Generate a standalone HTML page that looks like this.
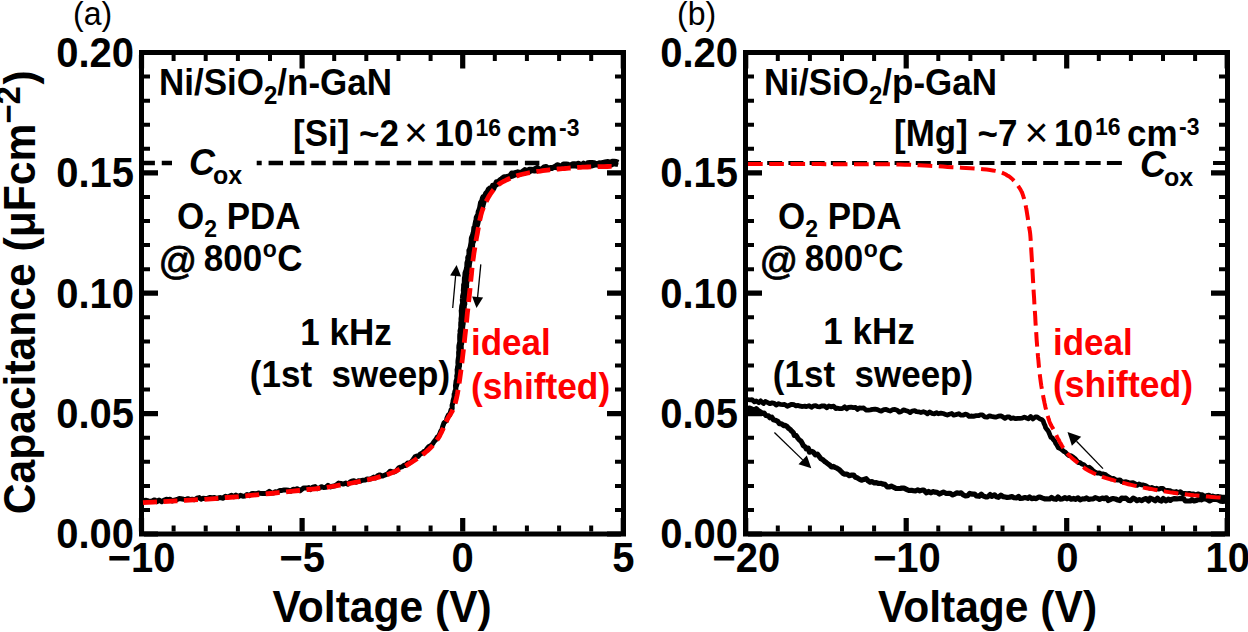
<!DOCTYPE html>
<html><head><meta charset="utf-8">
<style>
html,body{margin:0;padding:0;background:#fff;}
body{width:1248px;height:632px;overflow:hidden;position:relative;}
svg{position:absolute;left:0;top:0;}
.t{font-family:"Liberation Sans",sans-serif;font-weight:bold;}
</style></head><body>
<svg width="1248" height="632" viewBox="0 0 1248 632">
<rect width="1248" height="632" fill="#fff"/>
<rect x="141.5" y="52.5" width="482.0" height="481.5" fill="none" stroke="#000" stroke-width="5"/>
<path d="M173.6 531.5 V525.5 M173.6 55.0 V61.0 M205.7 531.5 V525.5 M205.7 55.0 V61.0 M237.9 531.5 V525.5 M237.9 55.0 V61.0 M270.0 531.5 V525.5 M270.0 55.0 V61.0 M334.2 531.5 V525.5 M334.2 55.0 V61.0 M366.3 531.5 V525.5 M366.3 55.0 V61.0 M398.5 531.5 V525.5 M398.5 55.0 V61.0 M430.6 531.5 V525.5 M430.6 55.0 V61.0 M494.8 531.5 V525.5 M494.8 55.0 V61.0 M526.9 531.5 V525.5 M526.9 55.0 V61.0 M559.1 531.5 V525.5 M559.1 55.0 V61.0 M591.2 531.5 V525.5 M591.2 55.0 V61.0 M144.0 509.9 H150.0 M621.0 509.9 H615.0 M144.0 485.9 H150.0 M621.0 485.9 H615.0 M144.0 461.8 H150.0 M621.0 461.8 H615.0 M144.0 437.7 H150.0 M621.0 437.7 H615.0 M144.0 389.6 H150.0 M621.0 389.6 H615.0 M144.0 365.5 H150.0 M621.0 365.5 H615.0 M144.0 341.4 H150.0 M621.0 341.4 H615.0 M144.0 317.3 H150.0 M621.0 317.3 H615.0 M144.0 269.2 H150.0 M621.0 269.2 H615.0 M144.0 245.1 H150.0 M621.0 245.1 H615.0 M144.0 221.0 H150.0 M621.0 221.0 H615.0 M144.0 196.9 H150.0 M621.0 196.9 H615.0 M144.0 148.8 H150.0 M621.0 148.8 H615.0 M144.0 124.7 H150.0 M621.0 124.7 H615.0 M144.0 100.7 H150.0 M621.0 100.7 H615.0 M144.0 76.6 H150.0 M621.0 76.6 H615.0" stroke="#000" stroke-width="4" fill="none"/>
<path d="M141.5 531.5 V518.0 M141.5 55.0 V68.5 M302.1 531.5 V518.0 M302.1 55.0 V68.5 M462.7 531.5 V518.0 M462.7 55.0 V68.5 M623.3 531.5 V518.0 M623.3 55.0 V68.5 M144.0 534.0 H158.0 M621.0 534.0 H607.0 M144.0 413.6 H158.0 M621.0 413.6 H607.0 M144.0 293.2 H158.0 M621.0 293.2 H607.0 M144.0 172.9 H158.0 M621.0 172.9 H607.0 M144.0 52.5 H158.0 M621.0 52.5 H607.0" stroke="#000" stroke-width="5.2" fill="none"/>
<rect x="745.5" y="52.5" width="482.0" height="481.5" fill="none" stroke="#000" stroke-width="5"/>
<path d="M777.8 531.5 V525.5 M777.8 55.0 V61.0 M809.9 531.5 V525.5 M809.9 55.0 V61.0 M842.0 531.5 V525.5 M842.0 55.0 V61.0 M874.1 531.5 V525.5 M874.1 55.0 V61.0 M938.3 531.5 V525.5 M938.3 55.0 V61.0 M970.4 531.5 V525.5 M970.4 55.0 V61.0 M1002.5 531.5 V525.5 M1002.5 55.0 V61.0 M1034.6 531.5 V525.5 M1034.6 55.0 V61.0 M1098.8 531.5 V525.5 M1098.8 55.0 V61.0 M1130.9 531.5 V525.5 M1130.9 55.0 V61.0 M1163.0 531.5 V525.5 M1163.0 55.0 V61.0 M1195.1 531.5 V525.5 M1195.1 55.0 V61.0 M748.0 509.9 H754.0 M1225.0 509.9 H1219.0 M748.0 485.9 H754.0 M1225.0 485.9 H1219.0 M748.0 461.8 H754.0 M1225.0 461.8 H1219.0 M748.0 437.7 H754.0 M1225.0 437.7 H1219.0 M748.0 389.6 H754.0 M1225.0 389.6 H1219.0 M748.0 365.5 H754.0 M1225.0 365.5 H1219.0 M748.0 341.4 H754.0 M1225.0 341.4 H1219.0 M748.0 317.3 H754.0 M1225.0 317.3 H1219.0 M748.0 269.2 H754.0 M1225.0 269.2 H1219.0 M748.0 245.1 H754.0 M1225.0 245.1 H1219.0 M748.0 221.0 H754.0 M1225.0 221.0 H1219.0 M748.0 196.9 H754.0 M1225.0 196.9 H1219.0 M748.0 148.8 H754.0 M1225.0 148.8 H1219.0 M748.0 124.7 H754.0 M1225.0 124.7 H1219.0 M748.0 100.7 H754.0 M1225.0 100.7 H1219.0 M748.0 76.6 H754.0 M1225.0 76.6 H1219.0" stroke="#000" stroke-width="4" fill="none"/>
<path d="M745.7 531.5 V518.0 M745.7 55.0 V68.5 M906.2 531.5 V518.0 M906.2 55.0 V68.5 M1066.7 531.5 V518.0 M1066.7 55.0 V68.5 M1227.2 531.5 V518.0 M1227.2 55.0 V68.5 M748.0 534.0 H762.0 M1225.0 534.0 H1211.0 M748.0 413.6 H762.0 M1225.0 413.6 H1211.0 M748.0 293.2 H762.0 M1225.0 293.2 H1211.0 M748.0 172.9 H762.0 M1225.0 172.9 H1211.0 M748.0 52.5 H762.0 M1225.0 52.5 H1211.0" stroke="#000" stroke-width="5.2" fill="none"/>
<path d="M140.4 163 H541" stroke="#000" stroke-width="4.5" stroke-dasharray="14.5 6.86" fill="none"/>
<rect x="172" y="156" width="84.7" height="14" fill="#fff"/>
<path d="M143.9 500.6 L146.3 500.3 L148.4 500.9 L150.2 501.2 L152.4 500.9 L154.6 499.9 L157.1 501.7 L159.1 500.0 L161.7 501.8 L163.8 500.2 L166.3 499.2 L168.4 499.7 L170.1 499.2 L172.4 500.9 L174.5 500.1 L177.1 499.5 L179.2 498.6 L181.0 498.8 L183.7 499.3 L185.6 499.6 L187.9 498.7 L190.4 499.6 L192.1 499.2 L194.6 499.8 L196.9 498.2 L199.3 497.6 L201.1 499.1 L203.0 498.3 L205.2 498.6 L207.9 498.2 L210.2 497.4 L212.2 498.0 L214.4 497.5 L216.7 498.6 L218.7 497.7 L220.5 497.6 L223.2 498.2 L225.5 496.2 L227.4 497.0 L229.3 496.3 L231.6 495.2 L233.7 496.7 L235.9 495.1 L238.3 496.6 L240.3 495.3 L242.8 496.2 L245.2 495.9 L247.0 494.5 L249.2 495.6 L251.9 493.4 L253.5 493.4 L255.7 493.9 L258.2 493.1 L259.9 493.3 L262.4 493.4 L265.0 493.5 L266.9 493.1 L269.2 491.4 L271.6 493.1 L273.7 492.9 L275.5 491.7 L277.5 492.1 L279.7 490.4 L282.0 490.4 L284.3 489.9 L286.2 489.9 L288.4 490.2 L290.6 491.3 L293.2 489.2 L295.1 489.5 L297.4 488.7 L300.0 490.7 L301.9 489.2 L303.8 487.9 L306.1 488.1 L308.7 487.6 L310.3 489.5 L312.8 487.1 L315.0 486.6 L317.2 488.8 L319.7 487.8 L321.4 486.7 L323.5 487.5 L326.0 487.2 L328.0 485.4 L330.5 487.0 L332.7 486.2 L334.9 485.7 L336.6 484.8 L338.8 483.1 L340.8 483.4 L343.1 484.1 L345.8 483.1 L348.0 484.1 L350.1 482.1 L351.7 481.3 L353.9 480.8 L356.4 482.2 L358.7 480.7 L360.7 481.1 L362.4 480.3 L365.2 480.1 L367.2 478.9 L368.9 479.2 L371.2 478.7 L373.8 477.1 L375.5 478.0 L377.9 475.5 L379.6 474.9 L382.3 476.1 L383.8 475.5 L386.6 474.4 L388.2 473.4 L390.1 471.2 L392.7 472.0 L394.4 471.9 L396.3 470.8 L398.6 468.0 L400.1 467.2 L402.0 466.9 L403.9 465.3 L405.6 465.4 L407.6 463.0 L409.7 463.0 L411.4 461.8 L413.2 459.5 L415.0 456.9 L416.8 456.1 L418.2 456.4 L420.1 454.2 L422.3 453.1 L423.7 451.6 L425.6 450.9 L426.9 448.9 L428.6 446.7 L430.6 445.7 L431.9 444.8 L433.6 442.3 L434.8 440.8 L436.0 439.5 L437.2 437.2 L438.4 436.4 L439.6 434.4 L440.9 430.8 L441.6 430.6 L442.7 426.5 L443.1 425.3 L444.0 422.8 L444.9 422.0 L446.5 420.6 L447.0 418.1 L448.5 414.7 L449.7 415.0 L450.2 412.9 L451.1 409.7 L452.2 408.5 L452.1 405.3 L452.9 402.9 L453.1 400.7 L453.9 397.8 L454.2 396.7 L454.1 394.3 L454.9 392.6 L454.8 391.6 L455.7 389.4 L455.5 385.4 L455.7 384.5 L456.1 380.7 L456.5 380.5 L457.0 376.6 L456.7 376.2 L457.3 373.4 L457.1 369.5 L457.8 368.3 L457.5 367.4 L458.1 364.9 L457.9 362.8 L458.0 360.7 L458.5 357.1 L458.7 356.4 L458.6 352.2 L459.0 350.3 L458.8 347.9 L458.9 345.8 L459.3 343.9 L459.8 341.6 L459.7 339.1 L459.7 336.5 L459.8 334.3 L460.3 333.5 L460.0 331.1 L460.7 328.0 L460.8 326.6 L460.7 325.5 L460.8 322.4 L461.1 321.5 L461.0 318.9 L461.4 316.2 L461.4 313.2 L461.2 310.5 L461.4 309.9 L461.7 306.2 L461.8 305.7 L462.6 303.1 L462.3 299.8 L462.5 298.2 L462.6 295.9 L462.9 295.1 L463.7 291.8 L463.3 290.7 L463.6 287.0 L463.6 284.8 L464.3 283.0 L464.3 280.8 L464.4 278.0 L464.8 276.2 L465.0 273.0 L465.5 271.4 L466.1 270.0 L466.5 268.1 L466.8 266.5 L466.9 262.9 L467.7 260.3 L467.8 259.4 L467.7 257.7 L468.7 255.0 L469.0 253.3 L468.9 250.4 L469.6 249.0 L470.3 246.9 L470.6 244.9 L471.1 242.2 L471.3 238.4 L471.7 237.1 L472.1 236.2 L473.0 233.5 L473.5 231.5 L473.9 227.6 L474.6 227.3 L474.9 224.7 L475.6 221.3 L476.1 219.6 L476.2 217.6 L477.3 215.3 L477.8 215.2 L478.2 211.5 L478.8 210.2 L479.6 207.9 L480.2 204.4 L480.5 202.7 L481.7 200.8 L482.4 198.0 L483.0 196.7 L484.6 195.9 L485.8 193.0 L487.1 191.8 L488.4 189.2 L490.2 187.7 L491.8 188.1 L492.6 185.3 L494.9 185.1 L496.2 181.8 L497.8 182.2 L499.6 180.0 L501.4 178.7 L504.0 176.7 L505.8 176.7 L507.9 176.3 L509.5 176.0 L511.7 173.0 L513.4 173.5 L515.9 172.3 L517.7 171.8 L520.0 172.5 L521.9 171.8 L524.7 169.6 L526.9 170.7 L529.1 169.3 L530.8 169.2 L533.5 169.4 L535.2 168.6 L537.3 167.3 L539.3 169.1 L541.6 169.1 L543.8 167.0 L546.2 166.5 L548.2 168.2 L550.8 167.5 L552.8 167.5 L555.2 166.2 L557.2 164.7 L559.4 165.4 L561.6 165.7 L563.5 163.9 L566.1 163.9 L568.0 164.3 L570.0 165.2 L572.8 163.8 L574.7 163.8 L576.8 163.9 L578.7 163.2 L581.0 165.0 L583.4 163.1 L585.9 165.0 L587.7 162.7 L589.7 162.5 L592.0 162.4 L594.2 162.7 L596.6 164.2 L599.0 162.8 L600.9 163.0 L603.1 162.4 L605.0 162.0 L607.9 161.5 L609.7 162.6 L612.2 161.3 L613.9 161.2 L616.2 161.5 L618.4 162.4" stroke="#000" stroke-width="5" fill="none" stroke-linejoin="round"/>
<path d="M452.7 404.2 L452.8 402.9 L453.8 400.1 L454.3 396.9 L454.8 396.0 L455.6 393.4 L456.2 390.0 L456.3 387.4 L457.0 385.8 L457.7 383.4 L458.0 381.0 L458.3 378.2 L458.5 376.1 L458.9 373.9 L459.5 370.4 L459.5 367.8 L460.0 366.1 L460.1 362.6 L460.5 360.9 L460.7 357.8 L461.0 355.0 L461.1 353.2 L461.6 351.0 L461.8 348.3 L461.7 345.4 L462.2 343.7 L462.1 340.1 L462.4 338.6 L462.5 335.5 L462.9 334.0 L462.8 330.1 L463.1 328.3 L463.4 325.4 L463.7 323.8 L463.7 320.4 L464.1 318.1 L464.3 315.5 L464.2 313.8 L464.4 311.7 L464.7 307.9 L464.8 305.8 L465.3 304.2 L465.2 300.8 L465.5 299.2 L465.7 295.3 L466.0 293.3 L466.6 291.6 L466.8 289.3 L467.2 285.8 L467.1 284.3 L467.7 280.3 L468.0 278.4 L468.1 275.9 L468.4 272.9 L468.8 270.9 L469.4 268.1 L469.8 265.8 L469.9 264.3 L470.5 261.2 L470.5 258.8 L471.0 257.0 L471.4 253.7 L472.2 250.7 L472.4 249.5 L473.1 245.8 L473.2 243.4 L474.2 241.2 L474.7 239.8 L475.0 236.4 L475.9 234.5 L476.1 232.2 L476.7 229.1 L477.1 227.4 L478.1 224.8 L478.8 221.4 L479.1 219.7 L480.1 218.1 L480.5 214.5 L481.2 212.5 L482.1 209.6 L482.8 208.1 L483.5 205.8 L484.3 202.7 L485.1 200.5 L486.4 197.8 L487.4 196.7 L488.9 193.5 L490.3 192.4 L492.1 191.1 L494.0 189.3 L495.5 186.1 L497.2 185.0 L499.4 183.3 L501.2 181.8 L503.5 180.9 L505.8 180.1 L508.1 177.9 L510.5 177.3 L512.7 176.6 L515.2 175.5 L517.3 174.8 L519.7 175.1 L522.3 173.6 L524.6 174.0 L527.1 172.2 L529.7 172.3 L532.2 170.9 L534.4 171.6 L537.1 171.3 L539.1 169.9 L541.7 169.4 L544.6 169.7 L547.0 169.1 L549.5 168.9 L551.7 169.1 L554.5 167.8 L556.8 168.3 L559.1 167.7 L561.5 167.2 L564.1 167.6 L566.8 166.8 L569.0 166.8 L571.8 166.4 L574.1 166.3 L576.8 166.7 L579.0 165.8 L581.6 166.4 L584.2 165.5 L586.5 166.4 L589.1 165.6 L591.6 166.5 L594.1 165.8 L596.6 165.4 L599.3 166.2 L601.6 164.8 L604.2 164.7 L606.4 165.7 L609.1 165.4 L611.6 165.4 L614.1 164.2 L616.4 164.7 L618.1 165.2" stroke="#000" stroke-width="4" fill="none" stroke-linejoin="round"/>
<path d="M143.0 502.7 L147.5 502.4 L153.4 502.1 L160.2 501.8 L167.9 501.4 L176.3 500.9 L185.0 500.4 L193.9 499.9 L202.8 499.4 L211.4 498.8 L219.5 498.2 L227.5 497.5 L236.0 496.8 L244.6 496.0 L253.3 495.2 L262.0 494.3 L270.4 493.5 L278.5 492.6 L286.0 491.9 L292.9 491.1 L299.0 490.5 L304.2 490.0 L308.5 489.5 L312.1 489.1 L315.3 488.8 L318.0 488.5 L320.6 488.2 L323.1 487.8 L325.8 487.5 L328.7 487.0 L332.0 486.5 L335.7 485.9 L339.6 485.2 L343.7 484.5 L347.8 483.8 L352.0 483.0 L356.1 482.2 L360.1 481.4 L364.0 480.6 L367.6 479.8 L371.0 479.0 L374.1 478.3 L376.9 477.6 L379.5 476.9 L382.0 476.2 L384.3 475.5 L386.6 474.8 L388.9 474.0 L391.2 473.1 L393.5 472.1 L396.0 471.0 L398.6 469.7 L401.3 468.3 L404.1 466.8 L406.9 465.1 L409.6 463.4 L412.3 461.7 L415.0 460.0 L417.5 458.3 L419.8 456.6 L422.0 455.0 L424.0 453.5 L425.8 452.0 L427.5 450.6 L429.0 449.2 L430.5 447.8 L431.9 446.3 L433.2 444.8 L434.5 443.3 L435.8 441.7 L437.0 440.0 L438.2 438.2 L439.4 436.3 L440.4 434.2 L441.5 432.2 L442.4 430.1 L443.4 428.0 L444.3 425.9 L445.2 423.8 L446.1 421.9 L447.0 420.0 L447.9 418.3 L448.8 416.8 L449.6 415.5 L450.4 414.2 L451.2 412.9 L452.0 411.5 L452.8 410.0 L453.6 408.3 L454.3 406.3 L455.0 404.0 L455.7 401.5 L456.3 398.9 L456.9 396.3 L457.5 393.4 L458.0 390.4 L458.6 387.1 L459.1 383.4 L459.7 379.4 L460.3 374.9 L461.0 370.0 L461.7 364.3 L462.5 357.8 L463.3 350.7 L464.2 343.2 L465.0 335.4 L465.9 327.6 L466.7 319.9 L467.4 312.7 L468.2 305.9 L468.8 300.0 L469.4 294.7 L469.9 289.9 L470.3 285.4 L470.7 281.3 L471.1 277.4 L471.5 273.7 L471.8 270.2 L472.2 266.8 L472.6 263.4 L473.0 260.0 L473.5 256.6 L473.9 253.4 L474.4 250.3 L474.9 247.3 L475.4 244.4 L475.9 241.6 L476.3 238.9 L476.8 236.3 L477.3 233.8 L477.7 231.4 L478.1 229.1 L478.5 227.0 L478.8 224.9 L479.2 223.0 L479.5 221.2 L479.9 219.4 L480.3 217.7 L480.7 216.0 L481.1 214.3 L481.6 212.6 L482.1 210.9 L482.7 209.3 L483.3 207.7 L484.0 206.1 L484.7 204.6 L485.3 203.1 L486.0 201.7 L486.8 200.3 L487.5 198.9 L488.2 197.6 L488.9 196.3 L489.7 195.1 L490.4 194.0 L491.2 192.8 L492.0 191.8 L492.8 190.7 L493.5 189.7 L494.4 188.8 L495.2 187.9 L496.0 187.0 L496.8 186.2 L497.6 185.5 L498.3 184.8 L499.1 184.2 L499.9 183.6 L500.7 183.1 L501.6 182.5 L502.5 182.0 L503.6 181.4 L504.8 180.8 L506.1 180.2 L507.5 179.5 L509.0 178.8 L510.5 178.2 L512.2 177.5 L513.9 176.9 L515.7 176.2 L517.5 175.6 L519.4 175.0 L521.4 174.5 L523.5 174.0 L525.7 173.5 L528.0 173.0 L530.4 172.6 L532.9 172.2 L535.4 171.8 L537.8 171.4 L540.3 171.1 L542.7 170.7 L545.0 170.4 L547.3 170.1 L549.5 169.8 L551.7 169.6 L553.9 169.4 L556.0 169.2 L558.2 169.0 L560.3 168.8 L562.4 168.6 L564.6 168.5 L566.7 168.3 L568.8 168.1 L570.8 168.0 L572.7 167.8 L574.6 167.7 L576.6 167.6 L578.5 167.4 L580.6 167.3 L582.7 167.2 L585.0 167.1 L587.5 167.0 L590.3 166.9 L593.5 166.8 L596.9 166.7 L600.5 166.6 L604.0 166.6 L607.5 166.5 L610.8 166.4 L613.7 166.4 L616.1 166.3 L618.0 166.3" stroke="#f00" stroke-width="4.8" fill="none" stroke-dasharray="14 6.5"/>
<path d="M452.7 308.0 L455.6 276.0" stroke="#000" stroke-width="1.3"/>
<path d="M456.6 265.0 L461.1 276.5 L450.1 275.5 Z" fill="#000"/>
<path d="M480.8 264.4 L477.6 297.1" stroke="#000" stroke-width="1.3"/>
<path d="M476.5 308.0 L472.1 296.5 L483.1 297.6 Z" fill="#000"/>
<path d="M745.96 163 H1226" stroke="#000" stroke-width="4" stroke-dasharray="15 6.23" fill="none"/>
<rect x="1122" y="156" width="91" height="14" fill="#fff"/>
<path d="M747.7 399.7 L750.1 399.8 L752.0 399.7 L754.5 401.8 L756.3 401.0 L759.0 402.7 L760.7 400.9 L763.5 403.5 L765.3 401.5 L767.8 402.7 L770.0 403.7 L772.1 402.8 L774.2 403.3 L776.1 405.1 L778.6 403.7 L780.3 404.4 L782.8 404.6 L784.6 404.4 L787.3 406.3 L789.0 405.5 L791.7 404.3 L794.0 404.7 L796.0 405.9 L798.2 405.4 L800.2 406.2 L802.4 406.5 L804.7 406.1 L806.5 406.6 L809.1 405.7 L811.5 407.3 L813.5 405.8 L815.7 405.7 L817.6 406.7 L819.8 406.8 L822.3 405.8 L824.6 406.0 L826.9 407.8 L828.9 405.9 L831.1 406.8 L833.6 406.2 L835.8 408.5 L837.9 408.2 L839.6 408.7 L842.1 408.7 L844.6 406.8 L846.7 408.9 L848.3 407.5 L851.1 407.1 L853.4 407.6 L855.5 407.3 L857.5 409.5 L859.4 407.9 L861.8 408.2 L863.7 408.0 L866.0 410.0 L868.6 410.1 L870.4 409.9 L872.5 409.4 L875.1 409.1 L877.5 409.7 L879.5 410.7 L881.3 411.1 L883.9 409.7 L886.2 409.5 L888.6 410.5 L890.3 411.1 L892.5 409.7 L895.0 409.5 L897.2 410.2 L899.3 412.2 L901.4 411.5 L903.4 409.9 L905.4 410.4 L908.0 411.3 L910.2 412.6 L912.1 411.0 L914.7 410.6 L916.4 411.6 L918.6 411.8 L920.9 412.5 L923.4 411.7 L925.6 412.5 L927.4 413.8 L929.7 411.9 L931.8 413.3 L934.6 413.9 L936.4 412.6 L938.3 413.8 L940.9 413.1 L943.2 413.5 L945.6 414.4 L947.3 415.0 L949.3 414.2 L951.8 413.5 L953.7 415.1 L955.9 414.6 L958.8 413.7 L960.4 415.0 L962.9 415.2 L965.3 414.2 L967.1 414.6 L969.1 416.3 L971.9 416.0 L973.4 416.4 L976.2 415.6 L978.4 415.7 L980.2 414.9 L982.4 414.9 L984.7 416.8 L987.2 417.2 L989.4 415.8 L991.4 416.4 L993.8 416.8 L995.6 417.2 L998.4 416.2 L1000.5 415.8 L1002.2 416.5 L1004.8 418.4 L1007.0 416.9 L1009.3 416.9 L1011.0 418.5 L1013.5 417.9 L1015.7 418.7 L1017.8 418.3 L1020.1 418.4 L1022.1 418.2 L1024.4 417.1 L1026.4 418.0 L1028.4 418.8 L1030.7 416.5 L1032.9 419.0 L1035.3 417.0 L1037.2 417.0 L1039.9 418.9 L1042.0 419.8 L1043.1 420.9 L1044.0 423.5 L1045.1 425.8 L1045.6 427.7 L1047.2 429.9 L1047.5 429.9 L1048.5 431.5 L1050.1 435.4 L1051.0 437.4 L1052.2 437.8 L1053.0 439.1 L1054.8 441.2 L1055.8 443.6 L1056.8 444.9 L1058.4 447.8 L1060.0 448.4 L1062.3 450.1 L1064.1 451.5 L1065.3 452.1 L1067.4 454.3 L1069.0 455.6 L1070.8 455.7 L1072.8 456.8 L1074.6 458.3 L1075.8 459.5 L1078.3 462.6 L1079.7 462.4 L1082.0 464.2 L1083.6 464.5 L1085.7 466.5 L1087.5 468.0 L1089.4 467.2 L1091.6 469.1 L1093.0 470.6 L1094.9 472.0 L1097.3 473.1 L1099.3 472.9 L1101.1 473.9 L1103.5 474.0 L1105.5 474.6 L1107.1 476.0 L1109.7 477.3 L1111.4 478.9 L1113.4 478.4 L1115.8 479.8 L1118.1 480.1 L1119.9 479.8 L1121.8 481.7 L1124.4 482.0 L1126.1 481.7 L1128.7 482.6 L1130.4 482.8 L1133.1 482.7 L1134.7 483.4 L1137.2 485.3 L1139.0 484.0 L1141.2 484.9 L1143.5 485.0 L1145.5 485.5 L1148.2 487.3 L1149.7 488.4 L1151.8 487.3 L1154.7 488.8 L1156.7 488.2 L1158.4 489.2 L1160.5 488.4 L1162.9 488.4 L1165.1 490.7 L1167.5 490.3 L1169.6 490.6 L1171.4 491.3 L1173.8 492.0 L1176.3 491.5 L1178.2 492.6 L1180.3 491.6 L1182.7 493.6 L1184.9 493.4 L1187.2 493.6 L1189.2 493.3 L1191.1 494.0 L1193.1 493.8 L1195.9 494.8 L1197.9 493.8 L1200.0 494.6 L1202.3 494.7 L1204.5 496.2 L1206.3 495.7 L1209.0 495.2 L1211.0 496.9 L1212.8 496.0 L1215.1 496.8 L1217.9 496.3 L1219.4 496.7 L1222.0 497.2 L1224.1 497.2 L1226.3 497.1" stroke="#000" stroke-width="4.8" fill="none" stroke-linejoin="round"/>
<path d="M747.9 408.3 L749.8 408.2 L752.1 409.2 L753.9 410.5 L756.2 408.7 L758.1 410.5 L759.9 411.5 L762.2 413.3 L764.1 413.1 L765.9 415.5 L768.4 415.9 L769.8 417.8 L771.8 417.2 L773.5 419.8 L776.1 420.5 L777.7 421.3 L779.4 423.6 L781.4 423.8 L783.6 425.6 L785.0 425.4 L786.8 426.3 L788.7 428.4 L790.4 429.6 L791.6 431.1 L793.2 432.4 L794.4 435.5 L796.2 435.7 L797.7 438.0 L799.3 440.0 L800.9 440.9 L802.6 444.0 L803.3 445.6 L805.5 447.1 L806.3 448.9 L808.3 448.1 L809.4 452.2 L811.8 451.4 L813.3 452.1 L815.4 454.8 L817.4 454.1 L819.7 457.1 L820.9 458.7 L823.0 459.8 L824.7 461.5 L826.5 462.7 L827.8 463.7 L829.8 465.2 L831.5 466.9 L833.4 466.4 L834.9 467.3 L837.0 468.2 L839.0 469.4 L841.0 471.4 L843.0 473.3 L844.6 474.1 L847.0 474.1 L849.2 475.7 L851.1 475.2 L853.6 475.0 L855.5 477.3 L857.1 477.8 L859.7 479.4 L861.5 480.2 L863.8 479.4 L866.2 478.7 L868.2 480.9 L870.0 482.2 L872.2 481.6 L874.4 483.0 L876.3 482.6 L878.6 483.5 L881.1 483.4 L883.2 484.2 L885.0 484.4 L887.2 486.9 L889.5 486.9 L891.3 486.0 L893.5 487.2 L895.9 488.3 L897.5 488.5 L900.4 488.4 L901.9 488.1 L904.0 488.1 L907.0 489.6 L908.9 490.5 L911.3 490.3 L913.2 490.6 L915.5 490.8 L917.7 489.9 L919.8 490.9 L922.1 490.1 L923.8 490.1 L926.5 492.8 L928.6 491.5 L930.9 492.9 L932.9 491.6 L934.9 492.2 L937.1 492.4 L939.5 494.0 L941.2 493.1 L943.4 492.0 L946.3 493.5 L948.6 493.3 L950.0 493.3 L952.7 494.9 L955.2 493.8 L956.9 492.9 L959.3 493.3 L961.1 492.9 L963.2 494.9 L965.4 495.8 L967.6 495.7 L969.8 493.4 L972.5 494.2 L974.7 494.2 L976.4 495.9 L979.1 496.3 L981.3 494.2 L983.4 496.1 L985.5 496.8 L987.5 497.0 L990.1 494.5 L991.7 496.4 L994.6 494.9 L996.4 496.8 L998.4 497.3 L1000.9 495.1 L1003.0 496.6 L1005.3 497.0 L1007.2 497.5 L1009.6 497.1 L1012.0 496.6 L1014.0 497.7 L1016.7 497.8 L1018.6 496.5 L1020.3 498.5 L1023.1 498.1 L1025.0 497.6 L1027.7 498.3 L1029.6 496.9 L1031.6 498.6 L1033.8 498.1 L1036.2 498.7 L1038.6 497.1 L1040.1 497.1 L1042.6 498.1 L1045.2 499.0 L1046.7 498.9 L1049.6 499.0 L1051.5 497.4 L1054.0 499.0 L1056.0 499.3 L1058.0 497.0 L1060.3 499.1 L1062.2 499.0 L1065.0 497.6 L1067.0 498.9 L1069.1 497.6 L1071.1 499.2 L1073.7 498.4 L1075.3 499.4 L1078.1 497.9 L1080.1 499.8 L1082.6 498.8 L1084.5 499.0 L1086.4 497.9 L1088.6 499.4 L1091.0 499.0 L1093.2 498.9 L1095.2 497.6 L1098.1 498.6 L1099.5 499.4 L1102.3 498.1 L1104.4 498.6 L1106.5 497.8 L1108.3 500.5 L1111.2 499.1 L1113.1 498.5 L1115.5 499.0 L1117.9 500.0 L1119.9 500.6 L1121.7 498.0 L1123.8 498.4 L1125.9 498.1 L1128.5 500.4 L1130.6 500.6 L1133.2 498.2 L1135.2 499.1 L1137.0 500.7 L1139.3 499.6 L1141.8 500.7 L1144.0 499.2 L1146.0 498.6 L1148.7 500.9 L1150.2 498.2 L1152.5 499.1 L1155.2 500.7 L1157.4 498.3 L1159.5 500.2 L1161.6 501.0 L1163.3 498.6 L1166.1 500.9 L1168.2 499.1 L1170.4 500.4 L1172.1 499.2 L1174.5 498.6 L1176.9 498.8 L1178.9 498.7 L1181.4 498.4 L1183.7 498.9 L1185.3 501.0 L1187.6 501.0 L1190.4 500.9 L1192.0 499.7 L1194.1 501.0 L1197.0 500.2 L1198.8 499.4 L1201.3 499.8 L1203.4 498.9 L1205.2 498.6 L1207.9 500.0 L1209.6 500.9 L1211.9 499.7 L1214.0 499.3 L1216.8 499.5 L1218.4 499.9 L1220.7 501.1 L1222.7 501.3 L1224.9 501.1 L1226.1 499.2" stroke="#000" stroke-width="5.2" fill="none" stroke-linejoin="round"/>
<path d="M748.0 164.0 L754.3 164.0 L762.7 164.0 L772.7 164.0 L784.0 164.1 L795.9 164.1 L808.0 164.1 L820.0 164.1 L831.3 164.2 L841.4 164.2 L850.0 164.2 L857.1 164.2 L863.4 164.2 L868.9 164.2 L873.9 164.2 L878.4 164.2 L882.7 164.2 L886.8 164.3 L891.0 164.3 L895.3 164.4 L900.0 164.5 L904.9 164.7 L909.7 164.8 L914.6 165.0 L919.4 165.3 L924.2 165.5 L929.0 165.8 L933.7 166.1 L938.4 166.3 L943.0 166.6 L947.5 166.9 L952.1 167.2 L956.7 167.4 L961.4 167.7 L966.0 167.9 L970.5 168.2 L975.0 168.5 L979.2 168.8 L983.1 169.2 L986.7 169.6 L990.0 170.0 L992.9 170.5 L995.4 170.9 L997.6 171.4 L999.6 172.0 L1001.3 172.5 L1002.9 173.1 L1004.4 173.8 L1005.9 174.5 L1007.3 175.4 L1008.8 176.2 L1010.2 177.3 L1011.6 178.4 L1012.9 179.6 L1014.1 180.9 L1015.3 182.2 L1016.4 183.5 L1017.4 184.9 L1018.3 186.2 L1019.2 187.5 L1020.0 188.8 L1020.7 189.9 L1021.3 191.1 L1021.9 192.2 L1022.3 193.3 L1022.7 194.4 L1023.1 195.5 L1023.4 196.6 L1023.8 197.7 L1024.1 198.8 L1024.4 200.0 L1024.7 201.2 L1025.0 202.4 L1025.3 203.7 L1025.6 204.9 L1025.8 206.2 L1026.0 207.4 L1026.3 208.7 L1026.5 210.0 L1026.7 211.2 L1026.9 212.5 L1027.1 213.7 L1027.3 215.0 L1027.5 216.2 L1027.7 217.4 L1027.9 218.7 L1028.0 219.9 L1028.2 221.1 L1028.4 222.4 L1028.6 223.7 L1028.8 225.0 L1028.9 226.2 L1029.1 227.2 L1029.3 228.0 L1029.4 228.9 L1029.6 229.8 L1029.8 230.9 L1030.0 232.3 L1030.2 234.0 L1030.4 236.2 L1030.6 239.0 L1030.8 242.4 L1031.1 246.3 L1031.3 250.6 L1031.6 255.3 L1031.9 260.3 L1032.2 265.5 L1032.5 270.9 L1032.8 276.3 L1033.1 281.7 L1033.4 287.0 L1033.7 292.4 L1034.1 298.2 L1034.4 304.1 L1034.8 310.2 L1035.2 316.2 L1035.5 322.3 L1035.9 328.2 L1036.3 333.8 L1036.6 339.1 L1037.0 344.0 L1037.3 348.5 L1037.7 352.7 L1038.0 356.7 L1038.4 360.4 L1038.7 364.0 L1039.0 367.4 L1039.4 370.7 L1039.7 373.8 L1040.1 376.9 L1040.5 380.0 L1040.9 383.0 L1041.3 385.8 L1041.8 388.6 L1042.2 391.2 L1042.7 393.7 L1043.2 396.2 L1043.6 398.5 L1044.1 400.7 L1044.5 402.9 L1045.0 405.0 L1045.4 407.0 L1045.9 408.9 L1046.3 410.8 L1046.8 412.5 L1047.2 414.2 L1047.6 415.7 L1048.1 417.2 L1048.5 418.7 L1049.0 420.0 L1049.4 421.3 L1049.8 422.5 L1050.3 423.5 L1050.7 424.4 L1051.1 425.3 L1051.5 426.0 L1052.0 426.8 L1052.4 427.5 L1052.8 428.3 L1053.3 429.1 L1053.8 430.0 L1054.2 431.0 L1054.7 431.9 L1055.2 432.9 L1055.7 434.0 L1056.2 435.0 L1056.7 436.0 L1057.2 437.1 L1057.7 438.1 L1058.2 439.0 L1058.8 440.0 L1059.2 440.9 L1059.7 441.9 L1060.2 442.8 L1060.7 443.6 L1061.2 444.5 L1061.7 445.4 L1062.2 446.3 L1062.7 447.1 L1063.2 447.9 L1063.8 448.8 L1064.3 449.6 L1064.9 450.4 L1065.5 451.1 L1066.1 451.9 L1066.7 452.7 L1067.3 453.4 L1068.0 454.1 L1068.7 454.9 L1069.3 455.6 L1070.0 456.2 L1070.7 456.9 L1071.4 457.6 L1072.1 458.2 L1072.8 458.8 L1073.5 459.4 L1074.3 460.0 L1075.0 460.6 L1075.8 461.2 L1076.6 461.8 L1077.5 462.5 L1078.4 463.2 L1079.3 463.9 L1080.1 464.7 L1081.1 465.4 L1082.0 466.2 L1083.0 467.0 L1084.0 467.7 L1085.1 468.5 L1086.3 469.3 L1087.5 470.0 L1088.8 470.7 L1090.1 471.4 L1091.4 472.1 L1092.7 472.8 L1094.2 473.5 L1095.7 474.2 L1097.3 474.9 L1099.1 475.6 L1101.0 476.4 L1103.1 477.1 L1105.4 477.9 L1107.9 478.6 L1110.5 479.4 L1113.3 480.2 L1116.2 481.1 L1119.2 481.9 L1122.2 482.7 L1125.2 483.4 L1128.3 484.2 L1131.2 484.9 L1134.2 485.6 L1137.3 486.3 L1140.4 486.9 L1143.5 487.6 L1146.7 488.2 L1149.9 488.8 L1153.0 489.4 L1156.2 490.0 L1159.4 490.6 L1162.5 491.1 L1165.6 491.6 L1168.7 492.1 L1171.8 492.6 L1175.0 493.0 L1178.1 493.4 L1181.2 493.8 L1184.3 494.2 L1187.4 494.6 L1190.6 494.9 L1193.8 495.3 L1197.1 495.6 L1200.7 496.0 L1204.4 496.3 L1208.1 496.6 L1211.8 496.9 L1215.4 497.2 L1218.7 497.4 L1221.6 497.7 L1224.1 497.8 L1226.0 498.0" stroke="#f00" stroke-width="4" fill="none" stroke-dasharray="14.7 6.5"/>
<path d="M774.4 432.5 L802.7 459.9" stroke="#000" stroke-width="1.3"/>
<path d="M811.3 468.2 L798.5 464.2 L806.8 455.5 Z" fill="#000"/>
<path d="M1103.0 468.6 L1076.5 441.2" stroke="#000" stroke-width="1.3"/>
<path d="M1067.5 431.9 L1081.2 436.7 L1071.9 445.8 Z" fill="#000"/>
<g class="t" font-family="Liberation Sans, sans-serif" font-weight="bold">
<text x="134.0" y="548.3" font-size="40.0" text-anchor="end" fill="#000"  transform="matrix(1 0 0 1.045 0 -24.67)">0.00</text>
<text x="134.0" y="427.9" font-size="40.0" text-anchor="end" fill="#000"  transform="matrix(1 0 0 1.045 0 -19.26)">0.05</text>
<text x="134.0" y="307.6" font-size="40.0" text-anchor="end" fill="#000"  transform="matrix(1 0 0 1.045 0 -13.84)">0.10</text>
<text x="134.0" y="187.2" font-size="40.0" text-anchor="end" fill="#000"  transform="matrix(1 0 0 1.045 0 -8.42)">0.15</text>
<text x="134.0" y="66.8" font-size="40.0" text-anchor="end" fill="#000"  transform="matrix(1 0 0 1.045 0 -3.01)">0.20</text>
<text x="738.0" y="548.3" font-size="40.0" text-anchor="end" fill="#000"  transform="matrix(1 0 0 1.045 0 -24.67)">0.00</text>
<text x="738.0" y="427.9" font-size="40.0" text-anchor="end" fill="#000"  transform="matrix(1 0 0 1.045 0 -19.26)">0.05</text>
<text x="738.0" y="307.6" font-size="40.0" text-anchor="end" fill="#000"  transform="matrix(1 0 0 1.045 0 -13.84)">0.10</text>
<text x="738.0" y="187.2" font-size="40.0" text-anchor="end" fill="#000"  transform="matrix(1 0 0 1.045 0 -8.42)">0.15</text>
<text x="738.0" y="66.8" font-size="40.0" text-anchor="end" fill="#000"  transform="matrix(1 0 0 1.045 0 -3.01)">0.20</text>
<text x="141.5" y="572.3" font-size="40.0" text-anchor="middle" fill="#000"  transform="matrix(1 0 0 1.045 0 -25.75)">−10</text>
<text x="302.1" y="572.3" font-size="40.0" text-anchor="middle" fill="#000"  transform="matrix(1 0 0 1.045 0 -25.75)">−5</text>
<text x="462.7" y="572.3" font-size="40.0" text-anchor="middle" fill="#000"  transform="matrix(1 0 0 1.045 0 -25.75)">0</text>
<text x="623.3" y="572.3" font-size="40.0" text-anchor="middle" fill="#000"  transform="matrix(1 0 0 1.045 0 -25.75)">5</text>
<text x="746.3" y="572.3" font-size="40.0" text-anchor="middle" fill="#000"  transform="matrix(1 0 0 1.045 0 -25.75)">−20</text>
<text x="906.8" y="572.3" font-size="40.0" text-anchor="middle" fill="#000"  transform="matrix(1 0 0 1.045 0 -25.75)">−10</text>
<text x="1067.3" y="572.3" font-size="40.0" text-anchor="middle" fill="#000"  transform="matrix(1 0 0 1.045 0 -25.75)">0</text>
<text x="1227.8" y="572.3" font-size="40.0" text-anchor="middle" fill="#000"  transform="matrix(1 0 0 1.045 0 -25.75)">10</text>
<text x="382.2" y="621.7" font-size="42.6" text-anchor="middle" fill="#000"  transform="matrix(1 0 0 1.045 0 -27.98)">Voltage (V)</text>
<text x="987.5" y="621.7" font-size="42.6" text-anchor="middle" fill="#000"  transform="matrix(1 0 0 1.045 0 -27.98)">Voltage (V)</text>
<text transform="translate(35,292.3) rotate(-90) scale(1,1.045)" font-size="42.6" text-anchor="middle">Capacitance (μFcm<tspan font-size="33" dy="-14">−2</tspan><tspan dy="14" dx="1.5">)</tspan></text>
<text x="73" y="25" font-size="32" font-weight="normal" transform="matrix(1 0 0 1.045 0 -1.12)">(a)</text>
<text x="677" y="24.5" font-size="32" font-weight="normal" transform="matrix(1 0 0 1.045 0 -1.10)">(b)</text>
<text x="159" y="95.5" font-size="35" transform="matrix(1 0 0 1.045 0 -4.30)">Ni/SiO<tspan font-size="24" dy="8">2</tspan><tspan dy="-8">/n-GaN</tspan></text>
<text x="293" y="145.9" font-size="35" transform="matrix(1 0 0 1.045 0 -6.57)">[Si] ~2</text>
<text x="404" y="147.5" font-size="41" font-weight="normal" transform="matrix(1 0 0 1.045 0 -6.64)">×</text>
<text x="434.5" y="145.9" font-size="35" transform="matrix(1 0 0 1.045 0 -6.57)">10</text>
<text x="475.5" y="135.6" font-size="23" transform="matrix(1 0 0 1.045 0 -6.10)">16</text>
<text x="507" y="145.9" font-size="35" transform="matrix(1 0 0 1.045 0 -6.57)">cm</text>
<text x="559" y="135.6" font-size="23" transform="matrix(1 0 0 1.045 0 -6.10)">-3</text>
<text x="189" y="175.5" font-size="36" font-style="italic" transform="matrix(1 0 0 1.045 0 -7.90)">C</text><text x="213" y="184" font-size="25" transform="matrix(1 0 0 1.045 0 -8.28)">ox</text>
<text x="177" y="229" font-size="35" transform="matrix(1 0 0 1.045 0 -10.30)">O<tspan font-size="23" dy="8">2</tspan><tspan dy="-8"> PDA</tspan></text>
<text x="158.5" y="271.5" font-size="35" transform="matrix(1 0 0 1.045 0 -12.22)"><tspan font-weight="normal" font-size="38" stroke="#000" stroke-width="0.8" dy="2.5">@</tspan><tspan dx="-3" dy="-2.5"> 800</tspan><tspan font-size="23" dy="-13.5" dx="0.5">o</tspan><tspan dy="13.5" dx="0.5">C</tspan></text>
<text x="346" y="345" font-size="35" text-anchor="middle" transform="matrix(1 0 0 1.045 0 -15.52)">1 kHz</text>
<text x="350" y="386.6" font-size="35" text-anchor="middle" xml:space="preserve" transform="matrix(1 0 0 1.045 0 -17.40)">(1st  sweep)</text>
<text x="471" y="355.2" font-size="35" fill="#f00" transform="matrix(1 0 0 1.045 0 -15.98)">ideal</text>
<text x="471" y="398.9" font-size="35.3" fill="#f00" transform="matrix(1 0 0 1.045 0 -17.95)">(shifted)</text>
<text x="764" y="95.2" font-size="35" transform="matrix(1 0 0 1.045 0 -4.28)">Ni/SiO<tspan font-size="24" dy="8">2</tspan><tspan dy="-8">/p-GaN</tspan></text>
<text x="894" y="146.1" font-size="35" transform="matrix(1 0 0 1.045 0 -6.57)">[Mg] ~7</text>
<text x="1024.5" y="147.5" font-size="41" font-weight="normal" transform="matrix(1 0 0 1.045 0 -6.64)">×</text>
<text x="1054" y="146.1" font-size="35" transform="matrix(1 0 0 1.045 0 -6.57)">10</text>
<text x="1095" y="134.6" font-size="23" transform="matrix(1 0 0 1.045 0 -6.06)">16</text>
<text x="1127" y="146.1" font-size="35" transform="matrix(1 0 0 1.045 0 -6.57)">cm</text>
<text x="1179" y="134.6" font-size="23" transform="matrix(1 0 0 1.045 0 -6.06)">-3</text>
<text x="1140" y="177" font-size="36" font-style="italic" transform="matrix(1 0 0 1.045 0 -7.96)">C</text><text x="1164" y="186" font-size="25" transform="matrix(1 0 0 1.045 0 -8.37)">ox</text>
<text x="778" y="228.7" font-size="35" transform="matrix(1 0 0 1.045 0 -10.29)">O<tspan font-size="23" dy="8">2</tspan><tspan dy="-8"> PDA</tspan></text>
<text x="759.5" y="271.5" font-size="35" transform="matrix(1 0 0 1.045 0 -12.22)"><tspan font-weight="normal" font-size="38" stroke="#000" stroke-width="0.8" dy="2.5">@</tspan><tspan dx="-3" dy="-2.5"> 800</tspan><tspan font-size="23" dy="-13.5" dx="0.5">o</tspan><tspan dy="13.5" dx="0.5">C</tspan></text>
<text x="869" y="344.2" font-size="35" text-anchor="middle" transform="matrix(1 0 0 1.045 0 -15.49)">1 kHz</text>
<text x="873" y="386.6" font-size="35" text-anchor="middle" xml:space="preserve" transform="matrix(1 0 0 1.045 0 -17.40)">(1st  sweep)</text>
<text x="1053" y="355" font-size="35" fill="#f00" transform="matrix(1 0 0 1.045 0 -15.97)">ideal</text>
<text x="1053" y="397.5" font-size="35.5" fill="#f00" transform="matrix(1 0 0 1.045 0 -17.89)">(shifted)</text>
</g>
</svg>
</body></html>
